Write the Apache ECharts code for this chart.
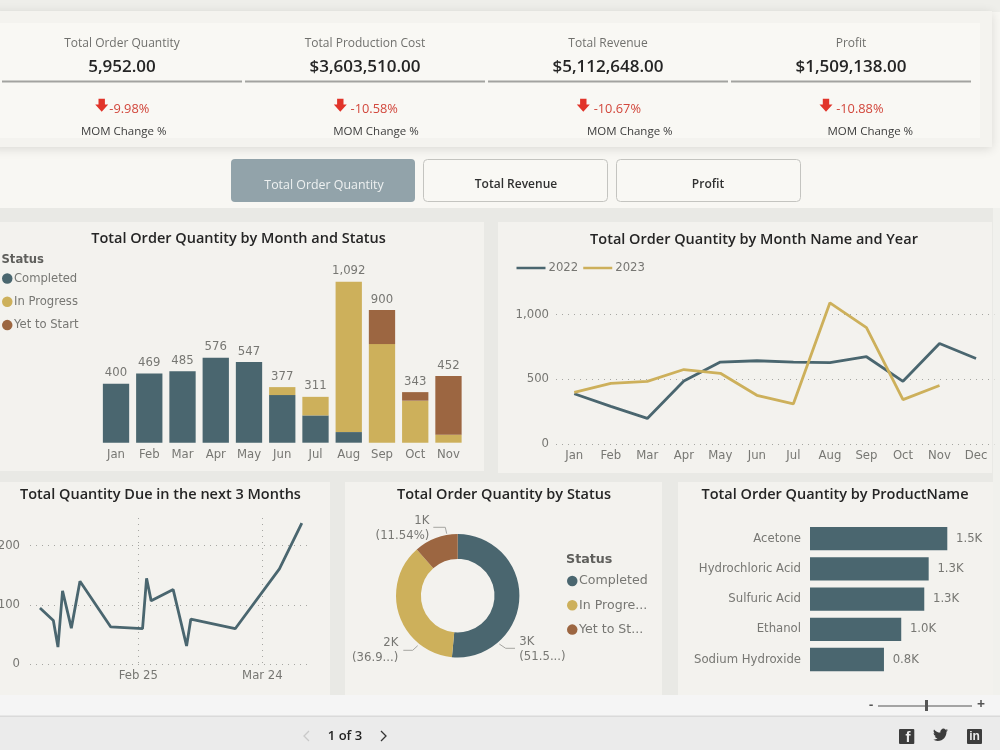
<!DOCTYPE html>
<html>
<head>
<meta charset="utf-8">
<style>html,body{margin:0;padding:0;background:#f8f7f3;overflow:hidden}#c{width:1000px;height:750px}</style>
<script src="https://cdn.jsdelivr.net/npm/echarts@6/dist/echarts.min.js"></script>
</head>
<body>
<div id="c"></div>
<script>
// ---------- data ----------
const kpiNames = ['Total Order Quantity', 'Total Production Cost', 'Total Revenue', 'Profit'];
const kpiValues = ['5,952.00', '$3,603,510.00', '$5,112,648.00', '$1,509,138.00'];
const kpiChanges = ['-9.98%', '-10.58%', '-10.67%', '-10.88%'];
const kpiChangeCaption = 'MOM Change %';
const buttonNames = ['Total Order Quantity', 'Total Revenue', 'Profit'];

const statusNames = ['Completed', 'In Progress', 'Yet to Start'];
const barMonths = ['Jan', 'Feb', 'Mar', 'Apr', 'May', 'Jun', 'Jul', 'Aug', 'Sep', 'Oct', 'Nov'];
const barCompleted = [400, 469, 485, 576, 547, 323, 185, 72, 0, 0, 0];
const barInProgress = [0, 0, 0, 0, 0, 54, 126, 1020, 669, 285, 54];
const barYetToStart = [0, 0, 0, 0, 0, 0, 0, 0, 231, 58, 398];
const barTotals = [400, 469, 485, 576, 547, 377, 311, 1092, 900, 343, 452];

const lineMonths = ['Jan', 'Feb', 'Mar', 'Apr', 'May', 'Jun', 'Jul', 'Aug', 'Sep', 'Oct', 'Nov', 'Dec'];
const line2022 = [389, 291, 198, 487, 634, 644, 634, 629, 675, 485, 778, 662];
const line2023 = [400, 469, 485, 576, 547, 377, 311, 1092, 900, 343, 452, null];

const dueDates = ['2023-02-03T14:00Z', '2023-02-06T12:00Z', '2023-02-07T12:00Z', '2023-02-08T12:00Z', '2023-02-10T10:00Z', '2023-02-12T07:00Z', '2023-02-19T00:00Z', '2023-02-25T22:00Z', '2023-02-26T19:00Z', '2023-02-27T19:00Z', '2023-03-04T14:00Z', '2023-03-07T12:00Z', '2023-03-08T10:00Z', '2023-03-18T02:00Z', '2023-03-27T17:00Z', '2023-04-01T14:00Z'];
const dueValues = [95, 74, 29, 124, 61, 140, 63, 60, 145, 107, 126, 31, 76, 60, 161, 238];
const dueTicks = ['2023-02-25T00:00Z', '2023-03-24T00:00Z'];
const dueTickLabels = ['Feb 25', 'Mar 24'];

const statusValues = [3065, 2200, 687];
const statusLabels = ['3K\n(51.5...)', '2K\n(36.9...)', '1K\n(11.54%)'];
const statusLegendLabels = ['Completed', 'In Progre...', 'Yet to St...'];

const productNames = ['Acetone', 'Hydrochloric Acid', 'Sulfuric Acid', 'Ethanol', 'Sodium Hydroxide'];
const productValues = [1526, 1319, 1270, 1014, 822];

// ---------- style ----------
const TEAL = '#4a666f', GOLD = '#cdb05b', BROWN = '#9c6641';
const AXIS = '#777773', PANEL = '#f3f2ee', AXIS_SIZE = 11.7;
const LABEL_FONT = '"DejaVu Sans", sans-serif', UI_FONT = '"Open Sans", "Noto Sans", sans-serif';
const ms = d => Date.parse(d);
const BIRD = 'M23.953 4.57a10 10 0 0 1-2.825.775 4.958 4.958 0 0 0 2.163-2.723c-.951.555-2.005.959-3.127 1.184a4.92 4.92 0 0 0-8.384 4.482C7.69 8.095 4.067 6.13 1.64 3.162a4.822 4.822 0 0 0-.666 2.475c0 1.71.87 3.213 2.188 4.096a4.904 4.904 0 0 1-2.228-.616v.06a4.923 4.923 0 0 0 3.946 4.827 4.996 4.996 0 0 1-2.212.085 4.936 4.936 0 0 0 4.604 3.417 9.867 9.867 0 0 1-6.102 2.105c-.39 0-.779-.023-1.17-.067a13.995 13.995 0 0 0 7.557 2.209c9.053 0 13.998-7.496 13.998-13.985 0-.21 0-.42-.015-.63A9.935 9.935 0 0 0 24 4.59z';
echarts.graphic.registerShape('bird', echarts.graphic.extendPath(BIRD, {}));

// ---------- page furniture ----------
const g = [];
const rect = (x, y, w, h, fill, extra) => g.push({type: 'rect', silent: true, shape: {x, y, width: w, height: h, r: (extra && extra.r) || 0}, style: Object.assign({fill}, extra && extra.style)});
const text = (x, y, t, font, fill, align) => g.push({type: 'text', x, y, silent: true, style: {text: t, font, fill, align: align || 'center', verticalAlign: 'middle'}});

rect(0, 0, 1000, 12, '#eeeeea');
rect(0, 208, 1000, 488, '#e9e9e5');
rect(993, 208, 7, 488, '#f1f1ed');
rect(-10, 11, 1002, 136, '#f4f3ef', {style: {shadowBlur: 10, shadowColor: 'rgba(0,0,0,0.12)', shadowOffsetY: 2}});
rect(-10, 23, 990, 115, '#f9f8f4');
[[-10, 222, 494, 249], [498, 222, 494, 251], [-10, 482, 340, 214], [345, 482, 317, 214], [678, 482, 315, 214]].forEach(p =>
  rect(p[0], p[1], p[2], p[3], PANEL));

const kpiCenters = [122, 365, 608, 851];
const kpiCaptionCenters = [123.7, 376, 629.8, 870.3];
const kpiPctCenters = [129.3, 374.2, 617.3, 859.8];
const kpiArrowCenters = [101.7, 340.3, 583.3, 826];
kpiNames.forEach((n, i) => {
  text(kpiCenters[i], 43.5, n, '12px ' + UI_FONT, '#70706d');
  text(kpiCenters[i], 67.5, kpiValues[i], '600 17px ' + UI_FONT, '#252525');
  rect(kpiCenters[i] - 120, 80.5, 240, 2, '#a3a3a0');
  text(kpiPctCenters[i], 109.5, kpiChanges[i], '500 12.8px ' + UI_FONT, '#d2473c');
  text(kpiCaptionCenters[i], 132, kpiChangeCaption, '11.5px ' + UI_FONT, '#3d3d3d');
  const a = kpiArrowCenters[i];
  g.push({type: 'polygon', silent: true, shape: {points: [[a - 3.2, 98.7], [a + 3.2, 98.7], [a + 3.2, 104.5], [a + 6.5, 104.5], [a, 111.7], [a - 6.5, 104.5], [a - 3.2, 104.5]]}, style: {fill: '#e1342a'}});
});

rect(231, 159, 184, 43, '#92a3aa', {r: 4});
text(324, 185, buttonNames[0], '12.4px ' + UI_FONT, '#eef1f1');
[[423.5, 516], [616.5, 708]].forEach((b, i) => {
  g.push({type: 'rect', silent: true, shape: {x: b[0], y: 159.5, width: 184, height: 42, r: 4}, style: {fill: '#f9f8f4', stroke: '#c4c4c0', lineWidth: 1}});
  text(b[1], 184.5, buttonNames[i + 1], '600 12px ' + UI_FONT, '#303030');
});

text(238.5, 239, 'Total Order Quantity by Month and Status', '600 14.5px ' + UI_FONT, '#252525');
text(754, 240, 'Total Order Quantity by Month Name and Year', '600 14.5px ' + UI_FONT, '#252525');
text(160.5, 494.5, 'Total Quantity Due in the next 3 Months', '600 14.5px ' + UI_FONT, '#252525');
text(504, 494.5, 'Total Order Quantity by Status', '600 14.5px ' + UI_FONT, '#252525');
text(835, 494.5, 'Total Order Quantity by ProductName', '600 14.5px ' + UI_FONT, '#252525');
text(1.5, 260, 'Status', 'bold 11.6px ' + LABEL_FONT, '#5f5f5c', 'left');
text(566, 560, 'Status', 'bold 12.7px ' + LABEL_FONT, '#5f5f5c', 'left');

// bottom bars
rect(0, 695, 1000, 22, '#f5f5f5');
rect(0, 716, 1000, 34, '#ebebeb');
rect(0, 715.5, 1000, 1.5, '#dadada');
text(871, 705.5, '-', 'bold 13px ' + UI_FONT, '#555');
rect(878, 705.5, 94, 1, '#555555');
rect(925, 700, 3, 11, '#555555');
text(981, 705.5, '+', 'bold 14px ' + UI_FONT, '#555');
text(345, 736, '1 of 3', '600 13px ' + UI_FONT, '#222');
g.push({type: 'polyline', silent: true, shape: {points: [[309, 731], [304, 736], [309, 741]]}, style: {fill: 'none', stroke: '#c9c9c9', lineWidth: 1.3}});
g.push({type: 'polyline', silent: true, shape: {points: [[381, 731], [386, 736], [381, 741]]}, style: {fill: 'none', stroke: '#333', lineWidth: 1.3}});
rect(899, 729, 15.3, 15, '#3c3c3c', {r: 1});
text(908, 738, 'f', 'bold 15px "Liberation Sans"', '#ebebeb');
g.push({type: 'bird', silent: true, x: 933, y: 727.4, scaleX: 0.625, scaleY: 0.625, style: {fill: '#3c3c3c'}});
rect(967, 729, 15, 15, '#3c3c3c', {r: 1});
text(974.5, 737, 'in', 'bold 12px "Liberation Sans"', '#ebebeb');

// ---------- chart ----------
const axisLabel = (margin, extra) => Object.assign({color: AXIS, fontFamily: LABEL_FONT, fontSize: AXIS_SIZE, margin}, extra);
const catAxis = (gridIndex, data, extra) => Object.assign({
  type: 'category', gridIndex, data,
  axisLine: {show: false}, axisTick: {show: false}, splitLine: {show: false},
  axisLabel: axisLabel(6)
}, extra);
const dotted = {show: true, lineStyle: {type: [1, 5], color: '#a6a6a2', width: 1}};
const nudgeDown = [2, 0, 0, 0];

// where the donut's callouts sit, per slice
const pieLabelSpots = [
  {x: 519.3, y: 649, align: 'left', line: [[499.3, 644], [505.7, 648.3], [515, 648.3]]},
  {x: 398.3, y: 650.5, align: 'right', line: [[417.7, 645.7], [412.7, 650.3], [403.3, 650.3]]},
  {x: 429.3, y: 528.5, align: 'right', line: [[446.7, 533.7], [445.3, 527.3], [433.3, 527.3]]}
];

const option = {
  animation: false,
  backgroundColor: '#f8f7f3',
  graphic: {elements: g},
  grid: [
    {left: 99.4, width: 365.7, top: 281.7, height: 161, outerBoundsMode: 'none'},
    {left: 556, width: 438.3, top: 301.8, height: 142.2, outerBoundsMode: 'none'},
    {left: 30, width: 281, top: 518, height: 146.3, outerBoundsMode: 'none'},
    {left: 810, width: 137.3, top: 523.6, height: 151, outerBoundsMode: 'none'}
  ],
  xAxis: [
    catAxis(0, barMonths),
    catAxis(1, lineMonths),
    {type: 'value', gridIndex: 2, min: ms('2023-02-01T10:00Z'), max: ms('2023-04-03T14:00Z'),
      axisLine: {show: false},
      axisTick: {show: false, customValues: dueTicks.map(ms)},
      splitLine: dotted,
      axisLabel: axisLabel(6, {customValues: dueTicks.map(ms),
        formatter: v => dueTickLabels[dueTicks.map(ms).indexOf(v)]})},
    {type: 'value', gridIndex: 3, min: 0, max: 1526, show: false}
  ],
  yAxis: [
    {type: 'value', gridIndex: 0, min: 0, max: 1092, show: false},
    {type: 'value', gridIndex: 1, min: 0, max: 1100, interval: 500,
      axisLine: {show: false}, axisTick: {show: false},
      splitLine: Object.assign({showMaxLine: false}, dotted),
      axisLabel: axisLabel(7, {showMaxLabel: false, padding: nudgeDown, formatter: v => v.toLocaleString('en-US')})},
    {type: 'value', gridIndex: 2, min: 0, max: 246.7, interval: 100,
      axisLine: {show: false}, axisTick: {show: false},
      splitLine: Object.assign({showMaxLine: false}, dotted),
      axisLabel: axisLabel(10, {showMaxLabel: false, padding: nudgeDown})},
    catAxis(3, productNames, {inverse: true, axisLabel: axisLabel(9, {padding: nudgeDown})})
  ],
  legend: [
    {id: 'barLegend', data: statusNames, orient: 'vertical', left: 2, top: 272.5, icon: 'circle', padding: 0,
      itemWidth: 10.5, itemHeight: 10.5, itemGap: 11.3, selectedMode: false,
      textStyle: {color: AXIS, fontFamily: LABEL_FONT, fontSize: 11.6, padding: [0, 0, 0, -3.5]}},
    {id: 'pieLegend', data: statusNames, orient: 'vertical', left: 567, top: 574.5, icon: 'circle', padding: 0,
      itemWidth: 10.5, itemHeight: 10.5, itemGap: 11.3, selectedMode: false,
      formatter: n => statusLegendLabels[statusNames.indexOf(n)],
      textStyle: {color: AXIS, fontFamily: LABEL_FONT, fontSize: 12.6, padding: [0, 0, 0, -3.5]}},
    {id: 'lineLegend', data: ['2022', '2023'], orient: 'horizontal', left: 516.5, top: 262, icon: 'rect', padding: 0,
      itemWidth: 29, itemHeight: 2.5, itemGap: 5, selectedMode: false,
      textStyle: {color: AXIS, fontFamily: LABEL_FONT, fontSize: AXIS_SIZE, padding: [0, 0, 0, -2]}}
  ],
  series: [
    {name: statusNames[0], type: 'bar', xAxisIndex: 0, yAxisIndex: 0, stack: 's', barWidth: 26.3, data: barCompleted, itemStyle: {color: TEAL}},
    {name: statusNames[1], type: 'bar', xAxisIndex: 0, yAxisIndex: 0, stack: 's', data: barInProgress, itemStyle: {color: GOLD}},
    {name: statusNames[2], type: 'bar', xAxisIndex: 0, yAxisIndex: 0, stack: 's', data: barYetToStart, itemStyle: {color: BROWN}},
    {name: 'Total', type: 'line', xAxisIndex: 0, yAxisIndex: 0, data: barTotals, symbol: 'circle', symbolSize: 1, showAllSymbol: true,
      itemStyle: {color: 'rgba(0,0,0,0)'}, lineStyle: {width: 0, opacity: 0}, silent: true,
      label: {show: true, position: 'top', distance: 4, color: AXIS, fontFamily: LABEL_FONT, fontSize: AXIS_SIZE, formatter: p => p.value.toLocaleString('en-US')}},
    {name: '2022', type: 'line', xAxisIndex: 1, yAxisIndex: 1, data: line2022, symbol: 'none', lineStyle: {color: TEAL, width: 2.8}, itemStyle: {color: TEAL}},
    {name: '2023', type: 'line', xAxisIndex: 1, yAxisIndex: 1, data: line2023, symbol: 'none', lineStyle: {color: GOLD, width: 2.8}, itemStyle: {color: GOLD}},
    {name: 'Due', type: 'line', xAxisIndex: 2, yAxisIndex: 2, data: dueDates.map((d, i) => [ms(d), dueValues[i]]), symbol: 'none', lineStyle: {color: TEAL, width: 2.8}, itemStyle: {color: TEAL}},
    {name: 'Status', type: 'pie', center: [457.7, 595.7], radius: [36.8, 61.7], startAngle: 90, silent: true,
      data: statusNames.map((n, i) => ({name: n, value: statusValues[i], itemStyle: {color: [TEAL, GOLD, BROWN][i]}})),
      label: {show: true, formatter: p => statusLabels[p.dataIndex], color: AXIS, fontFamily: LABEL_FONT, fontSize: AXIS_SIZE, lineHeight: 15},
      labelLine: {show: true, lineStyle: {color: '#a5a5a1', width: 1}},
      labelLayout: p => {
        const s = pieLabelSpots[p.dataIndex];
        return {x: s.x, y: s.y, align: s.align, verticalAlign: 'middle', labelLinePoints: s.line};
      }},
    {name: 'Product', type: 'bar', xAxisIndex: 3, yAxisIndex: 3, barWidth: 23.3, data: productValues, itemStyle: {color: TEAL},
      label: {show: true, position: 'right', distance: 8.7, color: AXIS, fontFamily: LABEL_FONT, fontSize: AXIS_SIZE, padding: nudgeDown,
        formatter: p => (p.value / 1000).toFixed(1) + 'K'}}
  ]
};
echarts.init(document.getElementById('c')).setOption(option);
</script>
</body>
</html>
